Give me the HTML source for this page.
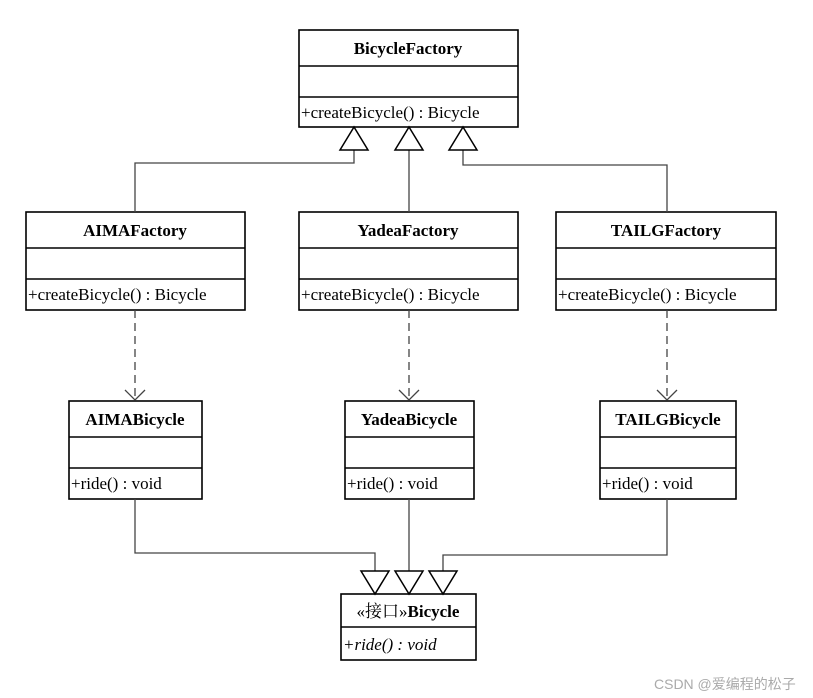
<!DOCTYPE html>
<html><head><meta charset="utf-8"><style>body{margin:0;background:#fff}svg{display:block}</style></head>
<body>
<svg width="813" height="698" viewBox="0 0 813 698" xmlns="http://www.w3.org/2000/svg" font-family="'Liberation Serif','Noto Serif CJK SC',serif" font-size="17">
<g fill="none" stroke="#000" stroke-width="1.6">
<rect x="299" y="30" width="219" height="97"/><line x1="299" y1="66" x2="518" y2="66"/><line x1="299" y1="97" x2="518" y2="97"/>
<rect x="26" y="212" width="219" height="98"/><line x1="26" y1="248" x2="245" y2="248"/><line x1="26" y1="279" x2="245" y2="279"/>
<rect x="299" y="212" width="219" height="98"/><line x1="299" y1="248" x2="518" y2="248"/><line x1="299" y1="279" x2="518" y2="279"/>
<rect x="556" y="212" width="220" height="98"/><line x1="556" y1="248" x2="776" y2="248"/><line x1="556" y1="279" x2="776" y2="279"/>
<rect x="69" y="401" width="133" height="98"/><line x1="69" y1="437" x2="202" y2="437"/><line x1="69" y1="468" x2="202" y2="468"/>
<rect x="345" y="401" width="129" height="98"/><line x1="345" y1="437" x2="474" y2="437"/><line x1="345" y1="468" x2="474" y2="468"/>
<rect x="600" y="401" width="136" height="98"/><line x1="600" y1="437" x2="736" y2="437"/><line x1="600" y1="468" x2="736" y2="468"/>
<rect x="341" y="594" width="135" height="66"/><line x1="341" y1="627" x2="476" y2="627"/>
</g>
<g fill="none" stroke="#444" stroke-width="1.3">
<polyline points="135,212 135,163 354,163 354,150"/>
<line x1="409" y1="150" x2="409" y2="212"/>
<polyline points="463,150 463,165 667,165 667,212"/>
<line x1="135" y1="310" x2="135" y2="400" stroke-dasharray="8,5"/>
<line x1="409" y1="310" x2="409" y2="400" stroke-dasharray="8,5"/>
<line x1="667" y1="310" x2="667" y2="400" stroke-dasharray="8,5"/>
<polyline points="125,390 135,400 145,390"/>
<polyline points="399,390 409,400 419,390"/>
<polyline points="657,390 667,400 677,390"/>
<polyline points="135,499 135,553 375,553 375,571"/>
<line x1="409" y1="499" x2="409" y2="571"/>
<polyline points="667,499 667,555 443,555 443,571"/>
</g>
<g fill="#fff" stroke="#000" stroke-width="1.5">
<polygon points="354,127 340,150 368,150"/>
<polygon points="409,127 395,150 423,150"/>
<polygon points="463,127 449,150 477,150"/>
<polygon points="375,594 361,571 389,571"/>
<polygon points="409,594 395,571 423,571"/>
<polygon points="443,594 429,571 457,571"/>
</g>
<g text-anchor="middle" font-weight="bold">
<text x="408" y="54">BicycleFactory</text>
<text x="135" y="236">AIMAFactory</text>
<text x="408" y="236">YadeaFactory</text>
<text x="666" y="236">TAILGFactory</text>
<text x="135" y="425">AIMABicycle</text>
<text x="409" y="425">YadeaBicycle</text>
<text x="668" y="425">TAILGBicycle</text>
</g>
<text x="301" y="118">+createBicycle() : Bicycle</text>
<text x="28" y="300">+createBicycle() : Bicycle</text>
<text x="301" y="300">+createBicycle() : Bicycle</text>
<text x="558" y="300">+createBicycle() : Bicycle</text>
<text x="71" y="489">+ride() : void</text>
<text x="347" y="489">+ride() : void</text>
<text x="602" y="489">+ride() : void</text>
<text x="408" y="617" text-anchor="middle">«接口»<tspan font-weight="bold">Bicycle</tspan></text>
<text x="343" y="650" font-style="italic">+ride() : void</text>
<text x="654" y="689" font-family="'Liberation Sans','Noto Sans CJK SC',sans-serif" font-size="14" fill="#aaa">CSDN @爱编程的松子</text>
</svg>
</body></html>
